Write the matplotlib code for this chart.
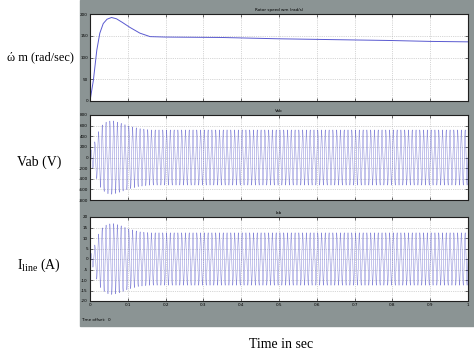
"""
Scope traces: rotor speed, line voltage and line current during start-up.
"""

import numpy as np
import matplotlib.pyplot as plt
from matplotlib.patches import Rectangle

plt.rcParams['mathtext.fontset'] = 'custom'
plt.rcParams['mathtext.rm'] = 'Liberation Serif'

# rotor speed (rad/s)
speed_t = [0, 0.009, 0.018, 0.026, 0.035, 0.045, 0.057, 0.07, 0.085,
           0.106, 0.132, 0.159, 0.2, 0.35, 0.5, 0.65, 0.8, 0.9, 1.0]
speed = [0, 48, 117, 156, 178, 188, 192, 189, 181,
         169, 156, 148, 147, 146, 143, 141, 139, 137, 136]

# envelope of the line voltage Vab (V)
vab_t = [0, 0.008, 0.02, 0.03, 0.045, 0.06, 0.08, 0.1, 0.13, 0.16, 1.0]
vab_amp = [120, 200, 450, 600, 680, 695, 650, 600, 545, 520, 520]

# envelope of the line current (A)
iline_t = [0, 0.008, 0.02, 0.03, 0.045, 0.06, 0.08, 0.1, 0.13, 0.16, 1.0]
iline_amp = [2, 4, 11, 14.5, 16.5, 17, 16, 14.5, 13, 12.5, 12.5]

# apparent trace frequency on the scope (Hz)
freq = 100.0

x_ticks = [0, 0.1, 0.2, 0.3, 0.4, 0.5, 0.6, 0.7, 0.8, 0.9, 1]
x_ticklabels = ['0', '0.1', '0.2', '0.3', '0.4', '0.5', '0.6', '0.7',
                '0.8', '0.9', '1']
speed_ticks = [0, 50, 100, 150, 200]
vab_ticks = [-800, -600, -400, -200, 0, 200, 400, 600, 800]
iline_ticks = [-20, -15, -10, -5, 0, 5, 10, 15, 20]

SCOPE_GRAY = '#8b9494'
TRACE = '#3535c0'


def style_axes(ax, yticks):
    """MATLAB scope look."""
    ax.set_xlim(0, 1)
    ax.set_ylim(yticks[0], yticks[-1])
    ax.set_yticks(yticks)
    ax.set_yticklabels([str(v) for v in yticks], fontsize=3)
    ax.set_xticks(x_ticks)
    ax.tick_params(direction='in', length=2, width=0.4, pad=1.5,
                   right=True, top=True, labelsize=3)
    ax.grid(True, color='#b0b0b0', linestyle=':', linewidth=0.5)
    for sp in ax.spines.values():
        sp.set_linewidth(0.8)
        sp.set_color('#202020')


fig = plt.figure(figsize=(4.74, 3.6), dpi=100)
fig.patch.set_facecolor('white')
fig.patches.append(Rectangle((80 / 474, 34 / 360), 394 / 474, 326 / 360,
                             transform=fig.transFigure, color=SCOPE_GRAY,
                             zorder=-10))

left, width = 90 / 474, 378 / 474
ax1 = fig.add_axes([left, 259 / 360, width, 87 / 360])
ax2 = fig.add_axes([left, 160 / 360, width, 85 / 360])
ax3 = fig.add_axes([left, 59 / 360, width, 84 / 360])

t = np.linspace(0, 1, 40001)
carrier = np.sin(2 * np.pi * freq * t)

ax1.plot(speed_t, speed, color='#5a5ad0', linewidth=0.7)
ax2.plot(t, np.interp(t, vab_t, vab_amp) * carrier, color=TRACE,
         linewidth=0.3, alpha=0.7)
ax3.plot(t, np.interp(t, iline_t, iline_amp) * carrier, color=TRACE,
         linewidth=0.3, alpha=0.7)

style_axes(ax1, speed_ticks)
style_axes(ax2, vab_ticks)
style_axes(ax3, iline_ticks)
ax1.set_xticklabels([])
ax2.set_xticklabels([])
ax3.set_xticklabels(x_ticklabels, fontsize=3)

ax1.set_title('Rotor speed wm (rad/s)', fontsize=3, pad=2)
ax2.set_title('Vab', fontsize=3, pad=2)
ax3.set_title('Iab', fontsize=3, pad=2)

fig.text(81 / 474, 1 - 320 / 360, 'Time offset:  0', fontsize=3,
         va='center', ha='left')

serif = 'Liberation Serif'
fig.text(40 / 474, 1 - 57 / 360, 'ώ m (rad/sec)', family=serif,
         fontsize=8.8, ha='center', va='center')
fig.text(39 / 474, 1 - 162 / 360, 'Vab (V)', family=serif,
         fontsize=10, ha='center', va='center')
fig.text(39 / 474, 1 - 265 / 360, r'$\mathrm{I}_{\mathrm{line}}$ (A)',
         family=serif, fontsize=10, ha='center', va='center')
fig.text(281 / 474, 1 - 344 / 360, 'Time in sec', family=serif,
         fontsize=10, ha='center', va='center')

fig.savefig('out.png', dpi=100)
